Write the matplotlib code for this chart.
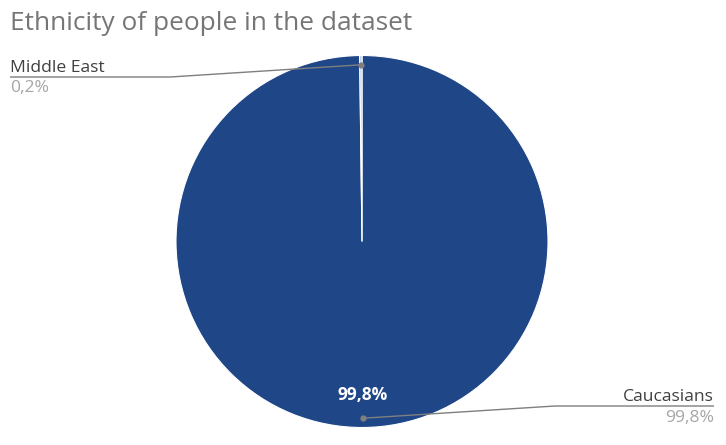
import numpy as np
import matplotlib.pyplot as plt

plt.rcParams['font.family'] = ['Open Sans', 'DejaVu Sans']

title = "Ethnicity of people in the dataset"
labels = ["Caucasians", "Middle East"]
values = [99.8, 0.2]
colors = ["#1f4687", "#a8c4ea"]


def pct(v):
    return f"{v:.1f}".replace(".", ",") + "%"


W, H = 726, 445
fig = plt.figure(figsize=(W / 100, H / 100), dpi=100)
ax = fig.add_axes([0, 0, 1, 1])

cx, cy, r = 362, H - 241.5, 186
wedges, _ = ax.pie(values, colors=colors, startangle=90, counterclock=False,
                   center=(cx, cy), radius=r, frame=True,
                   wedgeprops=dict(edgecolor="white", linewidth=0.8))
ax.set_xlim(0, W)
ax.set_ylim(0, H)
ax.set_aspect("equal")
ax.axis("off")

fig.text(10 / W, 1 - 23 / H, title, fontsize=18.9, color="#767676", va="center", ha="left")

# leader lines: elbow and label end positions (pixels)
layout = {
    "Middle East": dict(elbow=(170, 77), end=(10, 77), ha="left"),
    "Caucasians": dict(elbow=(555, 406), end=(714, 406), ha="right"),
}

for w, lab, v in zip(wedges, labels, values):
    mid = np.deg2rad((w.theta1 + w.theta2) / 2)
    dx, dy = np.cos(mid), np.sin(mid)
    px, py = cx + 0.95 * r * dx, cy + 0.95 * r * dy
    lo = layout[lab]
    ex, ey = lo["elbow"][0], H - lo["elbow"][1]
    tx, ty = lo["end"][0], H - lo["end"][1]
    ax.plot([px, ex, tx], [py, ey, ty], color="#7f7f7f", lw=1.0, solid_capstyle="butt")
    ax.plot(px, py, "o", color="#7f7f7f", ms=3.5)
    ax.text(tx, ty + 5, lab, ha=lo["ha"], va="baseline", fontsize=12.6, color="#404040")
    ax.text(tx, ty - 3.5, pct(v), ha=lo["ha"], va="top", fontsize=12.6, color="#a6a6a6")

# inside label on the big slice
w = wedges[0]
mid = np.deg2rad((w.theta1 + w.theta2) / 2)
ax.text(cx + 0.825 * r * np.cos(mid), cy + 0.825 * r * np.sin(mid), pct(values[0]),
        ha="center", va="center", fontsize=12.5, fontweight="bold", color="white")

fig.savefig("out.png", dpi=100)
